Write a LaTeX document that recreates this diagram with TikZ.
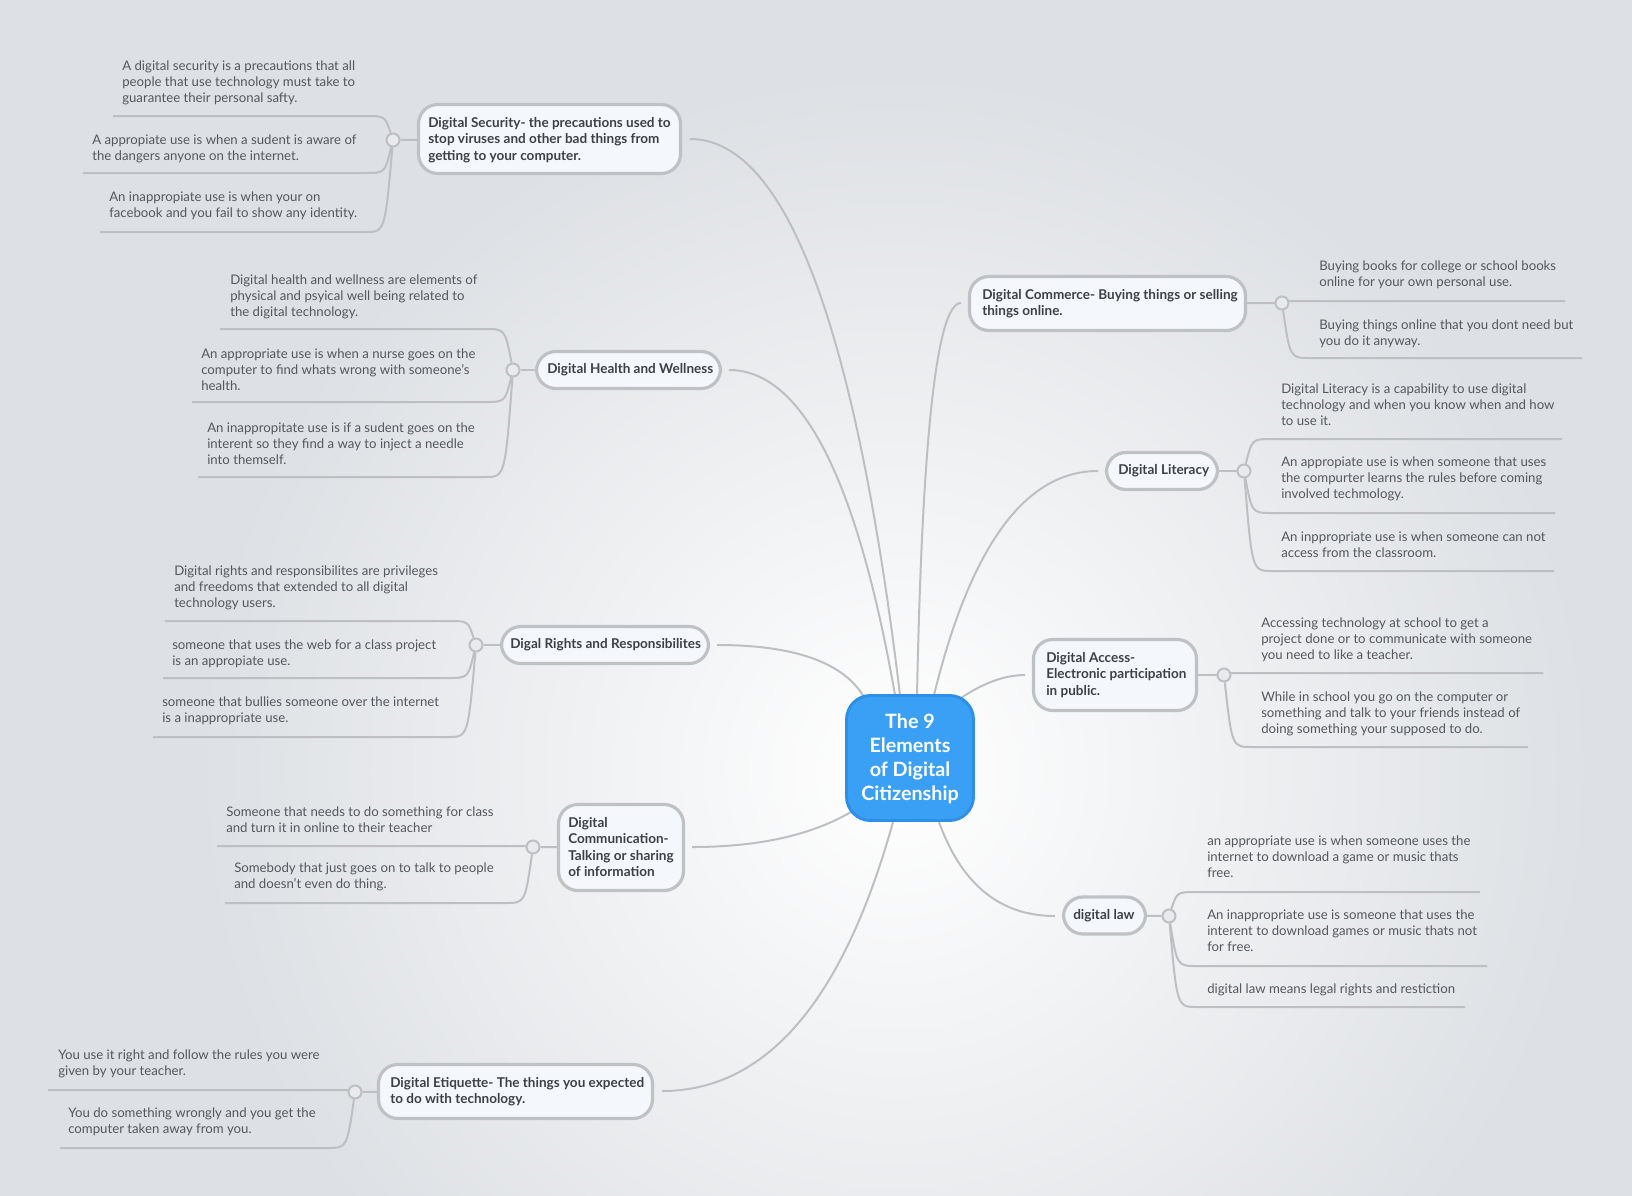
\documentclass[tikz,border=0pt]{standalone}
\usepackage{fontspec}
\setmainfont{Lato}
\usetikzlibrary{calc}
\definecolor{bg}{HTML}{DDE0E4}
\definecolor{boxfill}{HTML}{F4F8FD}
\definecolor{boxline}{HTML}{BFC1C5}
\definecolor{linec}{HTML}{BDBFC3}
\definecolor{maintext}{HTML}{3D4045}
\definecolor{leaftext}{HTML}{54575C}
\definecolor{cblue}{HTML}{3AA0F5}
\definecolor{cblue2}{HTML}{2E8FE5}
\definecolor{hubfill}{HTML}{E8EAED}
\newcommand\px{0.75pt}
\newcommand\leaffnt{\fontsize{9.9}{12}\selectfont}
\newcommand\mainfnt{\fontsize{10.15}{12.3}\selectfont\bfseries}
\newcommand\cfnt{\fontsize{14.8}{18}\selectfont\bfseries}
\begin{document}
\begin{tikzpicture}[x=0.75pt,y=-0.75pt,
  mbox/.style={draw=boxline, line width=2.4pt, fill=boxfill, rounded corners=14.5pt, inner sep=0pt},
  mtext/.style={font=\mainfnt, text=maintext, align=left, inner sep=0pt, anchor=west},
  ltext/.style={font=\leaffnt, text=leaftext, align=left, inner sep=0pt, anchor=west},
  conn/.style={draw=linec, line width=1.5pt},
  hub/.style={circle, draw=linec, line width=1.5pt, fill=hubfill, minimum size=13*\px, inner sep=0pt},
  cbox/.style={draw=cblue2, fill=cblue, line width=2.2pt, rounded corners=18pt, inner sep=0pt},
  ctext/.style={font=\cfnt, text=white, align=center, inner sep=0pt}]
\useasboundingbox (0,0) rectangle (1632,1196);
\fill[bg] (0,0) rectangle (1632,1196);
\shade[inner color=white, outer color=bg] (895,770) circle (700);

% ---------- main connectors ----------
\coordinate (sSec) at (900,695);  \coordinate (eSec) at (690,139);
\coordinate (sHea) at (895,695);  \coordinate (eHea) at (729,370);
\coordinate (sRig) at (864,697);  \coordinate (eRig) at (717,645);
\coordinate (sCom) at (851,812);  \coordinate (eCom) at (692,847);
\coordinate (sEti) at (893,822);  \coordinate (eEti) at (662,1091);
\coordinate (sCmm) at (917,695);  \coordinate (eCmm) at (961,303);
\coordinate (sLit) at (934,695);  \coordinate (eLit) at (1098,471);
\coordinate (sAcc) at (958,700);  \coordinate (eAcc) at (1025,675);
\coordinate (sLaw) at (939,822);  \coordinate (eLaw) at (1055,916);
\draw[conn] (sSec) .. controls ($(sSec)!0.667!(833,139)$) and ($(eSec)!0.667!(833,139)$) .. (eSec);
\draw[conn] (sHea) .. controls ($(sHea)!0.667!(838,370)$) and ($(eHea)!0.667!(838,370)$) .. (eHea);
\draw[conn] (sRig) .. controls ($(sRig)!0.667!(833,645)$) and ($(eRig)!0.667!(833,645)$) .. (eRig);
\draw[conn] (sCom) .. controls ($(sCom)!0.667!(791,847)$) and ($(eCom)!0.667!(791,847)$) .. (eCom);
\draw[conn] (sEti) .. controls ($(sEti)!0.667!(818,1091)$) and ($(eEti)!0.667!(818,1091)$) .. (eEti);
\draw[conn] (sCmm) .. controls ($(sCmm)!0.667!(925,303)$) and ($(eCmm)!0.667!(925,303)$) .. (eCmm);
\draw[conn] (sLit) .. controls ($(sLit)!0.667!(989,471)$) and ($(eLit)!0.667!(989,471)$) .. (eLit);
\draw[conn] (sAcc) .. controls ($(sAcc)!0.667!(994,675)$) and ($(eAcc)!0.667!(994,675)$) .. (eAcc);
\draw[conn] (sLaw) .. controls ($(sLaw)!0.667!(973,916)$) and ($(eLaw)!0.667!(973,916)$) .. (eLaw);

% ---------- central node ----------
\node[cbox, minimum width=127*\px, minimum height=125*\px] (c) at (910,758) {};
\node[ctext] (cT) at (910,759) {The 9\\Elements\\of Digital\\Citizenship};

% ---------- main boxes ----------
\node[mbox, minimum width=262*\px, minimum height=69*\px] (sec) at (549.5,139) {};
\node[mtext] (secT) at (428,140) {Digital Security- the precautions used to\\stop viruses and other bad things from\\getting to your computer.};
\node[mbox, minimum width=184*\px, minimum height=37*\px] (hea) at (628.5,370) {};
\node[mtext] (heaT) at (547,370) {Digital Health and Wellness};
\node[mbox, minimum width=207*\px, minimum height=37*\px] (rig) at (605,645) {};
\node[mtext] (rigT) at (510,645) {Digal Rights and Responsibilites};
\node[mbox, minimum width=125*\px, minimum height=86*\px] (com) at (621,847.5) {};
\node[mtext] (comT) at (568,847) {Digital\\Communication-\\Talking or sharing\\of information};
\node[mbox, minimum width=274*\px, minimum height=54*\px] (eti) at (515.5,1091.5) {};
\node[mtext] (etiT) at (390,1091.5) {Digital Etiquette- The things you expected\\to do with technology.};
\node[mbox, minimum width=276*\px, minimum height=54*\px] (cmm) at (1107.5,303.5) {};
\node[mtext] (cmmT) at (982,303.5) {Digital Commerce- Buying things or selling\\things online.};
\node[mbox, minimum width=111*\px, minimum height=37*\px] (lit) at (1162,471) {};
\node[mtext] (litT) at (1118,471) {Digital Literacy};
\node[mbox, minimum width=163*\px, minimum height=71*\px] (acc) at (1115,675) {};
\node[mtext] (accT) at (1046,675) {Digital Access-\\Electronic participation\\in public.};
\node[mbox, minimum width=82*\px, minimum height=37*\px] (law) at (1104.5,915.5) {};
\node[mtext] (lawT) at (1073,916) {digital law};

% ---------- hubs ----------
\node[hub] (hSec) at (393,140) {};
\node[hub] (hHea) at (513,370) {};
\node[hub] (hRig) at (476,645) {};
\node[hub] (hCom) at (533,847) {};
\node[hub] (hEti) at (355,1092) {};
\node[hub] (hCmm) at (1282,303) {};
\node[hub] (hLit) at (1244,471) {};
\node[hub] (hAcc) at (1224,675) {};
\node[hub] (hLaw) at (1169,916) {};

\draw[conn] (hSec) -- (sec);
\draw[conn] (hHea) -- (hea);
\draw[conn] (hRig) -- (rig);
\draw[conn] (hCom) -- (com);
\draw[conn] (hEti) -- (eti);
\draw[conn] (cmm) -- (hCmm);
\draw[conn] (lit) -- (hLit);
\draw[conn] (acc) -- (hAcc);
\draw[conn] (law) -- (hLaw);

% ---------- leaf lines (left) ----------
\draw[conn] (hSec) .. controls (385,116) .. (365,116) -- (113,116) coordinate (uS1);
\draw[conn] (hSec) .. controls (385,173) .. (365,173) -- (83,173) coordinate (uS2);
\draw[conn] (hSec) .. controls (385,232) .. (365,232) -- (100,232) coordinate (uS3);
\draw[conn] (hHea) .. controls (505,329) .. (485,329) -- (220,329) coordinate (uH1);
\draw[conn] (hHea) .. controls (505,402) .. (485,402) -- (192,402) coordinate (uH2);
\draw[conn] (hHea) .. controls (505,477) .. (485,477) -- (198,477) coordinate (uH3);
\draw[conn] (hRig) .. controls (468,621) .. (448,621) -- (165,621) coordinate (uR1);
\draw[conn] (hRig) .. controls (468,678) .. (448,678) -- (163,678) coordinate (uR2);
\draw[conn] (hRig) .. controls (468,737) .. (448,737) -- (153,737) coordinate (uR3);
\draw[conn] (hCom) .. controls (525,846) .. (505,846) -- (217,846) coordinate (uC1);
\draw[conn] (hCom) .. controls (525,903) .. (505,903) -- (225,903) coordinate (uC2);
\draw[conn] (hEti) .. controls (347,1090) .. (327,1090) -- (48,1090) coordinate (uE1);
\draw[conn] (hEti) .. controls (347,1148) .. (327,1148) -- (60,1148) coordinate (uE2);
% ---------- leaf lines (right) ----------
\draw[conn] (hCmm) .. controls (1290,301) .. (1310,301) -- (1565,301) coordinate (uM1);
\draw[conn] (hCmm) .. controls (1290,358) .. (1310,358) -- (1582,358) coordinate (uM2);
\draw[conn] (hLit) .. controls (1252,439) .. (1272,439) -- (1562,439) coordinate (uL1);
\draw[conn] (hLit) .. controls (1252,513) .. (1272,513) -- (1555,513) coordinate (uL2);
\draw[conn] (hLit) .. controls (1252,571) .. (1272,571) -- (1554,571) coordinate (uL3);
\draw[conn] (hAcc) .. controls (1232,673) .. (1252,673) -- (1543,673) coordinate (uA1);
\draw[conn] (hAcc) .. controls (1232,747) .. (1252,747) -- (1528,747) coordinate (uA2);
\draw[conn] (hLaw) .. controls (1177,892) .. (1197,892) -- (1480,892) coordinate (uW1);
\draw[conn] (hLaw) .. controls (1177,966) .. (1197,966) -- (1487,966) coordinate (uW2);
\draw[conn] (hLaw) .. controls (1177,1007) .. (1197,1007) -- (1465,1007) coordinate (uW3);

% ---------- leaf texts ----------
\node[ltext] (tS1) at (122,83) {A digital security is a precautions that all\\people that use technology must take to\\guarantee their personal safty.};
\node[ltext] (tS2) at (92,149) {A appropiate use is when a sudent is aware of\\the dangers anyone on the internet.};
\node[ltext] (tS3) at (109,206) {An inappropiate use is when your on\\facebook and you fail to show any identity.};
\node[ltext] (tH1) at (230,297) {Digital health and wellness are elements of\\physical and psyical well being related to\\the digital technology.};
\node[ltext] (tH2) at (201,370) {An appropriate use is when a nurse goes on the\\computer to find whats wrong with someone's\\health.};
\node[ltext] (tH3) at (207,444) {An inappropitate use is if a sudent goes on the\\interent so they find a way to inject a needle\\into themself.};
\node[ltext] (tR1) at (174,588) {Digital rights and responsibilites are privileges\\and freedoms that extended to all digital\\technology users.};
\node[ltext] (tR2) at (172,654) {someone that uses the web for a class project\\is an appropiate use.};
\node[ltext] (tR3) at (162,711) {someone that bullies someone over the internet\\is a inappropriate use.};
\node[ltext] (tC1) at (226,820) {Someone that needs to do something for class\\and turn it in online to their teacher};
\node[ltext] (tC2) at (234,877) {Somebody that just goes on to talk to people\\and doesn't even do thing.};
\node[ltext] (tE1) at (58,1064) {You use it right and follow the rules you were\\given by your teacher.};
\node[ltext] (tE2) at (68,1122) {You do something wrongly and you get the\\computer taken away from you.};
\node[ltext] (tM1) at (1319,275) {Buying books for college or school books\\online for your own personal use.};
\node[ltext] (tM2) at (1319,334) {Buying things online that you dont need but\\you do it anyway.};
\node[ltext] (tL1) at (1281,405) {Digital Literacy is a capability to use digital\\technology and when you know when and how\\to use it.};
\node[ltext] (tL2) at (1281,479) {An appropiate use is when someone that uses\\the compurter learns the rules before coming\\involved techmology.};
\node[ltext] (tL3) at (1281,545) {An inppropriate use is when someone can not\\access from the classroom.};
\node[ltext] (tA1) at (1261,640) {Accessing technology at school to get a\\project done or to communicate with someone\\you need to like a teacher.};
\node[ltext] (tA2) at (1261,714) {While in school you go on the computer or\\something and talk to your friends instead of\\doing something your supposed to do.};
\node[ltext] (tW1) at (1207,857) {an appropriate use is when someone uses the\\internet to download a game or music thats\\free.};
\node[ltext] (tW2) at (1207,931) {An inappropriate use is someone that uses the\\interent to download games or music thats not\\for free.};
\node[ltext] (tW3) at (1207,989.5) {digital law means legal rights and restiction};
\end{tikzpicture}
\end{document}
